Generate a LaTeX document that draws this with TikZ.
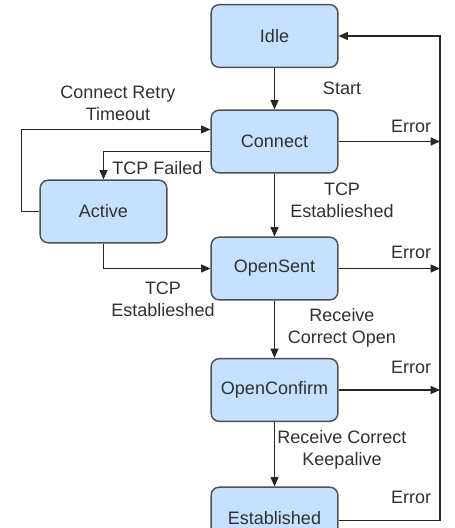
\documentclass[tikz,border=0pt]{standalone}
\usepackage{fontspec}
\setmainfont{Liberation Sans}
\usetikzlibrary{positioning,arrows.meta}
\definecolor{statefill}{HTML}{C5E1FF}
\definecolor{stateline}{HTML}{505050}
\definecolor{txtcol}{HTML}{303030}

\tikzset{
  state/.style={draw=stateline,fill=statefill,line width=1.1pt,rounded corners=6pt,
    minimum width=95pt,minimum height=47pt,text=txtcol},
  lbl/.style={text=txtcol,align=center,inner sep=0pt},
  flow/.style={draw=black!85,line width=0.9pt,-{Triangle[length=7pt,width=6pt]}},
  plain/.style={draw=black!85,line width=0.9pt}
}

\begin{document}
\begin{tikzpicture}[x=0.75pt,y=-0.75pt,font=\fontsize{13.5}{16.5}\selectfont]
			\useasboundingbox (0,0) rectangle (454,528);
			\begin{scope}
			\clip (0,0) rectangle (454,528);
			% states
			\node[state] (idle) at (274.5,36) {Idle};
			\node[state] (connect) at (274.5,141.5) {Connect};
			\node[state] (active) at (103.5,211.5) {Active};
			\node[state] (opensent) at (274.5,268.5) {OpenSent};
			\node[state] (openconfirm) at (274.5,390) {OpenConfirm};
			\node[state,inner ysep=1pt] (established) at (274.5,518.5) {Established};
			\coordinate (rail) at (440,36);
			
			% labels
			\node[lbl] (lblstart) at (342,88) {Start};
			\node[lbl] (lblretry) at (118,103) {Connect Retry\\Timeout};
			\node[lbl,anchor=west] (lblfailed) at (112,168) {TCP Failed};
			\node[lbl] (lbltcpa) at (342,200) {TCP\\Establieshed};
			\node[lbl] (lbltcpb) at (163,299.5) {TCP\\Establieshed};
			\node[lbl] (lblopen) at (342,327.5) {Receive\\Correct Open};
			\node[lbl] (lblkeep) at (342,450) {Receive Correct\\Keepalive};
			\node[lbl] (lblerra) at (411,126) {Error};
			\node[lbl] (lblerrb) at (411,252) {Error};
			\node[lbl] (lblerrc) at (411,367) {Error};
			\node[lbl] (lblerrd) at (411,497) {Error};
			
			% transitions
			\draw[flow] (idle) -- (connect);
			\draw[flow] (connect) -- (opensent);
			\draw[flow] (opensent) -- (openconfirm);
			\draw[flow] (openconfirm) -- (established);
			\draw[flow] (active.west) -- ++(-18,0) |- ([yshift=9pt]connect.west);
			\draw[flow] ([yshift=-7.5pt]connect.west) -| (active.north);
			\draw[flow] (active.south) |- (opensent.west);
			
			\draw[flow] (connect.east) -- (connect.east -| rail);
			\draw[flow] (opensent.east) -- (opensent.east -| rail);
			\draw[flow] (openconfirm.east) -- (openconfirm.east -| rail);
			\draw[flow] ([yshift=-1.5pt]established.east) -| (rail) -- (idle.east);
			\end{scope}
		\end{tikzpicture}
\end{document}
